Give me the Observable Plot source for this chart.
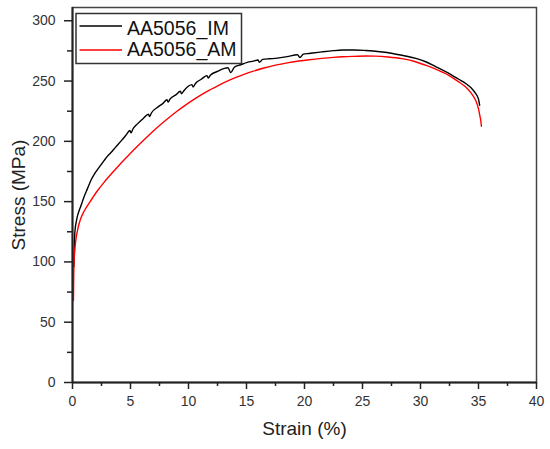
<!DOCTYPE html>
<html><head><meta charset="utf-8">
<script src="https://cdn.jsdelivr.net/npm/d3@7"></script>
<script src="https://cdn.jsdelivr.net/npm/@observablehq/plot@0.6"></script>
<style>
html,body{margin:0;padding:0;background:#fff;}
#chart svg{display:block;}
#chart g[aria-label="x-axis label"], #chart g[aria-label="y-axis label"]{font-size:19px;fill:#222;}
</style></head><body><div id="chart"></div>
<script>
const seriesNames = ["AA5056_IM", "AA5056_AM"];
const seriesColors = ["#000000", "#ff0000"];

const strainIM = [0.12,0.14,0.17,0.2,0.25,0.3,0.4,0.57,0.71,0.85,1.0,1.3,1.58,1.9,2.15,2.45,2.72,3.0,3.3,3.7,4.16,4.6,4.95,5.05,5.2,5.6,6.1,6.55,6.65,6.8,7.3,7.8,8.15,8.25,8.4,8.9,9.3,9.4,9.6,10.3,10.4,10.6,11.1,11.6,11.7,11.9,12.5,13.1,13.4,13.65,13.95,14.5,15.07,15.6,16.0,16.1,16.4,17.0,17.5,18.5,19.4,19.6,19.9,20.4,21.5,22.5,23.3,24.3,25.3,26.5,27.6,28.6,29.6,30.5,31.3,32.0,32.7,33.3,33.9,34.4,34.75,35.0,35.1];
const stressIM = [96,108,118,124,129,132,137,142.5,146,150,154,161,167.5,173,176.5,180.5,184,187.5,190.5,195,200,205,209,207,210,214.5,219,222.5,220.5,223.5,228,231.5,234.5,232.5,235,238.5,241.5,239.5,242,247,245,248,251.5,254.5,252.5,255,258,260.5,261,257,261.5,263.5,265.5,266.5,267.5,265.5,268,268.5,268.8,270.3,271.8,269.5,272.3,272.9,274.2,275.2,275.7,275.8,275.3,274.3,272.9,271,268.8,265.8,262,258.6,255,251.5,248,244,239.7,235,230];

const strainAM = [0.08,0.1,0.12,0.16,0.22,0.3,0.43,0.55,0.71,1.0,1.52,2.15,2.72,3.53,4.0,4.74,5.4,6.17,6.9,7.6,8.3,9.04,9.8,10.47,11.2,11.91,12.6,13.35,14.1,14.78,15.6,16.5,17.5,18.5,19.5,20.4,21.5,22.5,23.3,24.3,25.3,26.1,27.2,28.4,29.5,30.4,31.4,32.4,33.2,33.9,34.4,34.75,35.0,35.1,35.2,35.25];
const stressAM = [68,85,97,105,112,119,126,131,136,142,150,159,166,175,180,187.5,194,201.3,208,214,219.6,225.2,230.5,234.8,239.2,243,246.5,250,253,255.5,258.2,260.8,263.2,265.1,266.6,267.7,268.8,269.6,270.1,270.5,270.8,270.7,270,268.6,266.2,263.2,259.5,255,250,245,239.5,234,227,222,217,212.5];

const xTicks = [0,5,10,15,20,25,30,35,40];
const xMinor = [2.5,7.5,12.5,17.5,22.5,27.5,32.5,37.5];
const yTicks = [0,50,100,150,200,250,300];
const yMinor = [25,75,125,175,225,275];

const rows = [
  ...strainIM.map((s, i) => ({series: seriesNames[0], strain: s, stress: stressIM[i]})),
  ...strainAM.map((s, i) => ({series: seriesNames[1], strain: s, stress: stressAM[i]}))
];

const font = "'Liberation Sans', Arial, sans-serif";

const plot = Plot.plot({
  width: 550, height: 449,
  marginLeft: 72, marginRight: 14, marginTop: 7, marginBottom: 67,
  style: {fontFamily: font, fontSize: "14px", color: "#333", background: "#fff", overflow: "visible"},
  x: {domain: [0, 40]},
  y: {domain: [0, 311]},
  color: {domain: seriesNames, range: seriesColors},
  marks: [
    Plot.frame({stroke: "#444", strokeWidth: 1.5}),
    Plot.line(rows, {x: "strain", y: "stress", z: "series", stroke: "series", strokeWidth: 1.4, curve: "monotone-x"}),
    Plot.axisX({ticks: xTicks, tickSize: 7, tickPadding: 7, strokeWidth: 1.5, stroke: "#222", tickFormat: d => String(d),
      label: "Strain (%)", labelAnchor: "center", labelArrow: "none", labelOffset: 52}),
    Plot.axisX({ticks: xMinor, tickSize: 4, strokeWidth: 1.5, stroke: "#222", tickFormat: () => "", label: null}),
    Plot.axisY({ticks: yTicks, tickSize: 8, tickPadding: 9, strokeWidth: 1.5, stroke: "#222", tickFormat: d => String(d),
      label: "Stress (MPa)", labelAnchor: "center", labelArrow: "none", labelOffset: 61}),
    Plot.axisY({ticks: yMinor, tickSize: 5, strokeWidth: 1.5, stroke: "#222", tickFormat: () => "", label: null}),
    Plot.ruleX([0], {stroke: "#222", strokeWidth: 2}),
    Plot.ruleY([0], {stroke: "#222", strokeWidth: 2})
  ]
});

document.getElementById("chart").appendChild(plot);

// In-frame legend
const svg = d3.select(plot);
const lg = svg.append("g").attr("font-family", font).attr("font-size", "19.5px").attr("text-anchor", "start");
lg.append("rect").attr("x", 76).attr("y", 13.5).attr("width", 165.5).attr("height", 50)
  .attr("fill", "#fff").attr("stroke", "#333").attr("stroke-width", 1.5);
seriesNames.forEach((name, i) => {
  const cy = 26 + i * 24;
  lg.append("line").attr("x1", 79.5).attr("x2", 122).attr("y1", cy).attr("y2", cy)
    .attr("stroke", seriesColors[i]).attr("stroke-width", 1.4);
  lg.append("text").attr("x", 127).attr("y", cy + 8.5 - i * 3).attr("fill", "#111")
    .style("font-size", "19.5px").style("text-anchor", "start").text(name);
});
</script>
</body></html>
